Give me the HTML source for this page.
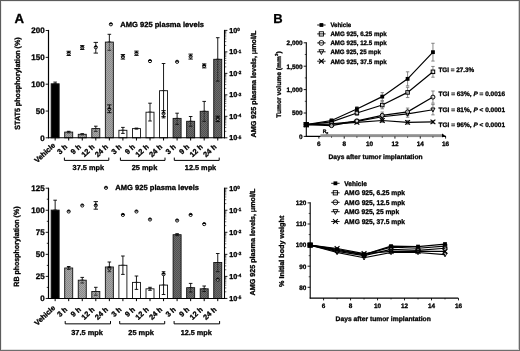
<!DOCTYPE html>
<html><head><meta charset="utf-8"><title>Figure</title>
<style>
html,body{margin:0;padding:0;background:#fff;}
body{width:520px;height:351px;overflow:hidden;position:relative;}
svg{display:block;position:absolute;left:0;top:0;}
svg text{font-family:'Liberation Sans',Arial,sans-serif;fill:#000;stroke:#000;stroke-width:0.3px;stroke-linejoin:round;text-rendering:geometricPrecision;}
</style></head><body>
<svg width="520" height="351" viewBox="0 0 520 351">
<defs>
<pattern id="lg" width="2" height="2" patternUnits="userSpaceOnUse"><rect width="2" height="2" fill="#a8a8a8"/><rect width="1" height="1" fill="#8a8a8a"/><rect x="1" y="1" width="1" height="1" fill="#8a8a8a"/></pattern>
<pattern id="dg" width="2" height="2" patternUnits="userSpaceOnUse"><rect width="2" height="2" fill="#6c6c6c"/><rect width="1" height="1" fill="#505050"/><rect x="1" y="1" width="1" height="1" fill="#505050"/></pattern>
</defs>
<rect x="0" y="0" width="520" height="351" fill="#fff"/>

<line x1="55.15" y1="82.10" x2="55.15" y2="83.80" stroke="#000" stroke-width="0.9"/>
<line x1="53.35" y1="82.10" x2="56.95" y2="82.10" stroke="#000" stroke-width="0.9"/>
<line x1="53.35" y1="83.80" x2="56.95" y2="83.80" stroke="#000" stroke-width="0.9"/>
<rect x="51.15" y="83.80" width="8.0" height="54.00" fill="#000" stroke="#111" stroke-width="0.9"/>
<line x1="68.70" y1="131.30" x2="68.70" y2="132.10" stroke="#000" stroke-width="0.9"/>
<line x1="66.90" y1="131.30" x2="70.50" y2="131.30" stroke="#000" stroke-width="0.9"/>
<line x1="66.90" y1="132.10" x2="70.50" y2="132.10" stroke="#000" stroke-width="0.9"/>
<rect x="64.70" y="132.10" width="8.0" height="5.70" fill="url(#lg)" stroke="#111" stroke-width="0.9"/>
<line x1="68.70" y1="132.10" x2="68.70" y2="132.90" stroke="#222" stroke-width="0.9" stroke-dasharray="1 0.6"/>
<line x1="66.90" y1="132.90" x2="70.50" y2="132.90" stroke="#222" stroke-width="0.9"/>
<line x1="82.25" y1="133.70" x2="82.25" y2="134.30" stroke="#000" stroke-width="0.9"/>
<line x1="80.45" y1="133.70" x2="84.05" y2="133.70" stroke="#000" stroke-width="0.9"/>
<line x1="80.45" y1="134.30" x2="84.05" y2="134.30" stroke="#000" stroke-width="0.9"/>
<rect x="78.25" y="134.30" width="8.0" height="3.50" fill="url(#lg)" stroke="#111" stroke-width="0.9"/>
<line x1="82.25" y1="134.30" x2="82.25" y2="134.90" stroke="#222" stroke-width="0.9" stroke-dasharray="1 0.6"/>
<line x1="80.45" y1="134.90" x2="84.05" y2="134.90" stroke="#222" stroke-width="0.9"/>
<line x1="95.80" y1="126.20" x2="95.80" y2="128.60" stroke="#000" stroke-width="0.9"/>
<line x1="94.00" y1="126.20" x2="97.60" y2="126.20" stroke="#000" stroke-width="0.9"/>
<line x1="94.00" y1="128.60" x2="97.60" y2="128.60" stroke="#000" stroke-width="0.9"/>
<rect x="91.80" y="128.60" width="8.0" height="9.20" fill="url(#lg)" stroke="#111" stroke-width="0.9"/>
<line x1="95.80" y1="128.60" x2="95.80" y2="131.40" stroke="#222" stroke-width="0.9" stroke-dasharray="1 0.6"/>
<line x1="94.00" y1="131.40" x2="97.60" y2="131.40" stroke="#222" stroke-width="0.9"/>
<line x1="109.35" y1="34.30" x2="109.35" y2="42.10" stroke="#000" stroke-width="0.9"/>
<line x1="107.55" y1="34.30" x2="111.15" y2="34.30" stroke="#000" stroke-width="0.9"/>
<line x1="107.55" y1="42.10" x2="111.15" y2="42.10" stroke="#000" stroke-width="0.9"/>
<rect x="105.35" y="42.10" width="8.0" height="95.70" fill="url(#lg)" stroke="#111" stroke-width="0.9"/>
<line x1="109.35" y1="42.10" x2="109.35" y2="50.30" stroke="#222" stroke-width="0.9" stroke-dasharray="1 0.6"/>
<line x1="107.55" y1="50.30" x2="111.15" y2="50.30" stroke="#222" stroke-width="0.9"/>
<line x1="122.90" y1="127.40" x2="122.90" y2="130.30" stroke="#000" stroke-width="0.9"/>
<line x1="121.10" y1="127.40" x2="124.70" y2="127.40" stroke="#000" stroke-width="0.9"/>
<line x1="121.10" y1="130.30" x2="124.70" y2="130.30" stroke="#000" stroke-width="0.9"/>
<rect x="118.90" y="130.30" width="8.0" height="7.50" fill="#fff" stroke="#111" stroke-width="0.9"/>
<line x1="122.90" y1="130.30" x2="122.90" y2="133.40" stroke="#000" stroke-width="0.9"/>
<line x1="121.10" y1="133.40" x2="124.70" y2="133.40" stroke="#000" stroke-width="0.9"/>
<line x1="136.45" y1="128.10" x2="136.45" y2="128.60" stroke="#000" stroke-width="0.9"/>
<line x1="134.65" y1="128.10" x2="138.25" y2="128.10" stroke="#000" stroke-width="0.9"/>
<line x1="134.65" y1="128.60" x2="138.25" y2="128.60" stroke="#000" stroke-width="0.9"/>
<rect x="132.45" y="128.60" width="8.0" height="9.20" fill="#fff" stroke="#111" stroke-width="0.9"/>
<line x1="136.45" y1="128.60" x2="136.45" y2="129.10" stroke="#000" stroke-width="0.9"/>
<line x1="134.65" y1="129.10" x2="138.25" y2="129.10" stroke="#000" stroke-width="0.9"/>
<line x1="150.00" y1="103.20" x2="150.00" y2="112.20" stroke="#000" stroke-width="0.9"/>
<line x1="148.20" y1="103.20" x2="151.80" y2="103.20" stroke="#000" stroke-width="0.9"/>
<line x1="148.20" y1="112.20" x2="151.80" y2="112.20" stroke="#000" stroke-width="0.9"/>
<rect x="146.00" y="112.20" width="8.0" height="25.60" fill="#fff" stroke="#111" stroke-width="0.9"/>
<line x1="150.00" y1="112.20" x2="150.00" y2="121.00" stroke="#000" stroke-width="0.9"/>
<line x1="148.20" y1="121.00" x2="151.80" y2="121.00" stroke="#000" stroke-width="0.9"/>
<line x1="163.55" y1="63.50" x2="163.55" y2="90.70" stroke="#000" stroke-width="0.9"/>
<line x1="161.75" y1="63.50" x2="165.35" y2="63.50" stroke="#000" stroke-width="0.9"/>
<line x1="161.75" y1="90.70" x2="165.35" y2="90.70" stroke="#000" stroke-width="0.9"/>
<rect x="159.55" y="90.70" width="8.0" height="47.10" fill="#fff" stroke="#111" stroke-width="0.9"/>
<line x1="163.55" y1="90.70" x2="163.55" y2="117.90" stroke="#000" stroke-width="0.9"/>
<line x1="161.75" y1="117.90" x2="165.35" y2="117.90" stroke="#000" stroke-width="0.9"/>
<line x1="177.10" y1="113.20" x2="177.10" y2="118.40" stroke="#000" stroke-width="0.9"/>
<line x1="175.30" y1="113.20" x2="178.90" y2="113.20" stroke="#000" stroke-width="0.9"/>
<line x1="175.30" y1="118.40" x2="178.90" y2="118.40" stroke="#000" stroke-width="0.9"/>
<rect x="173.10" y="118.40" width="8.0" height="19.40" fill="url(#dg)" stroke="#111" stroke-width="0.9"/>
<line x1="177.10" y1="118.40" x2="177.10" y2="124.40" stroke="#111" stroke-width="0.9" stroke-dasharray="1 0.6"/>
<line x1="175.30" y1="124.40" x2="178.90" y2="124.40" stroke="#111" stroke-width="0.9"/>
<line x1="190.65" y1="116.50" x2="190.65" y2="121.30" stroke="#000" stroke-width="0.9"/>
<line x1="188.85" y1="116.50" x2="192.45" y2="116.50" stroke="#000" stroke-width="0.9"/>
<line x1="188.85" y1="121.30" x2="192.45" y2="121.30" stroke="#000" stroke-width="0.9"/>
<rect x="186.65" y="121.30" width="8.0" height="16.50" fill="url(#dg)" stroke="#111" stroke-width="0.9"/>
<line x1="190.65" y1="121.30" x2="190.65" y2="126.20" stroke="#111" stroke-width="0.9" stroke-dasharray="1 0.6"/>
<line x1="188.85" y1="126.20" x2="192.45" y2="126.20" stroke="#111" stroke-width="0.9"/>
<line x1="204.20" y1="101.40" x2="204.20" y2="111.30" stroke="#000" stroke-width="0.9"/>
<line x1="202.40" y1="101.40" x2="206.00" y2="101.40" stroke="#000" stroke-width="0.9"/>
<line x1="202.40" y1="111.30" x2="206.00" y2="111.30" stroke="#000" stroke-width="0.9"/>
<rect x="200.20" y="111.30" width="8.0" height="26.50" fill="url(#dg)" stroke="#111" stroke-width="0.9"/>
<line x1="204.20" y1="111.30" x2="204.20" y2="121.30" stroke="#111" stroke-width="0.9" stroke-dasharray="1 0.6"/>
<line x1="202.40" y1="121.30" x2="206.00" y2="121.30" stroke="#111" stroke-width="0.9"/>
<line x1="217.75" y1="37.70" x2="217.75" y2="59.30" stroke="#000" stroke-width="0.9"/>
<line x1="215.95" y1="37.70" x2="219.55" y2="37.70" stroke="#000" stroke-width="0.9"/>
<line x1="215.95" y1="59.30" x2="219.55" y2="59.30" stroke="#000" stroke-width="0.9"/>
<rect x="213.75" y="59.30" width="8.0" height="78.50" fill="url(#dg)" stroke="#111" stroke-width="0.9"/>
<line x1="217.75" y1="59.30" x2="217.75" y2="81.10" stroke="#111" stroke-width="0.9" stroke-dasharray="1 0.6"/>
<line x1="215.95" y1="81.10" x2="219.55" y2="81.10" stroke="#111" stroke-width="0.9"/>
<line x1="48.50" y1="29.90" x2="48.50" y2="138.30" stroke="#000" stroke-width="1.2"/>
<line x1="47.90" y1="137.80" x2="225.05" y2="137.80" stroke="#000" stroke-width="1.1"/>
<line x1="224.50" y1="29.90" x2="224.50" y2="138.30" stroke="#000" stroke-width="1.1"/>
<line x1="55.15" y1="137.80" x2="55.15" y2="140.50" stroke="#000" stroke-width="1.0"/>
<line x1="68.70" y1="137.80" x2="68.70" y2="140.50" stroke="#000" stroke-width="1.0"/>
<line x1="82.25" y1="137.80" x2="82.25" y2="140.50" stroke="#000" stroke-width="1.0"/>
<line x1="95.80" y1="137.80" x2="95.80" y2="140.50" stroke="#000" stroke-width="1.0"/>
<line x1="109.35" y1="137.80" x2="109.35" y2="140.50" stroke="#000" stroke-width="1.0"/>
<line x1="122.90" y1="137.80" x2="122.90" y2="140.50" stroke="#000" stroke-width="1.0"/>
<line x1="136.45" y1="137.80" x2="136.45" y2="140.50" stroke="#000" stroke-width="1.0"/>
<line x1="150.00" y1="137.80" x2="150.00" y2="140.50" stroke="#000" stroke-width="1.0"/>
<line x1="163.55" y1="137.80" x2="163.55" y2="140.50" stroke="#000" stroke-width="1.0"/>
<line x1="177.10" y1="137.80" x2="177.10" y2="140.50" stroke="#000" stroke-width="1.0"/>
<line x1="190.65" y1="137.80" x2="190.65" y2="140.50" stroke="#000" stroke-width="1.0"/>
<line x1="204.20" y1="137.80" x2="204.20" y2="140.50" stroke="#000" stroke-width="1.0"/>
<line x1="217.75" y1="137.80" x2="217.75" y2="140.50" stroke="#000" stroke-width="1.0"/>
<line x1="45.70" y1="30.50" x2="48.50" y2="30.50" stroke="#000" stroke-width="0.9"/>
<text x="44.6" y="33.2" font-size="8.0" text-anchor="end" font-weight="bold">200</text>
<line x1="45.70" y1="57.35" x2="48.50" y2="57.35" stroke="#000" stroke-width="0.9"/>
<text x="44.6" y="60.05" font-size="8.0" text-anchor="end" font-weight="bold">150</text>
<line x1="45.70" y1="84.20" x2="48.50" y2="84.20" stroke="#000" stroke-width="0.9"/>
<text x="44.6" y="86.9" font-size="8.0" text-anchor="end" font-weight="bold">100</text>
<line x1="45.70" y1="111.05" x2="48.50" y2="111.05" stroke="#000" stroke-width="0.9"/>
<text x="44.6" y="113.75" font-size="8.0" text-anchor="end" font-weight="bold">50</text>
<line x1="45.70" y1="137.80" x2="48.50" y2="137.80" stroke="#000" stroke-width="0.9"/>
<text x="44.6" y="140.5" font-size="8.0" text-anchor="end" font-weight="bold">0</text>
<line x1="224.50" y1="30.40" x2="227.40" y2="30.40" stroke="#000" stroke-width="0.9"/>
<text x="229.2" y="33.00" font-size="7.2" font-weight="bold">10<tspan dy="-1.8" font-size="4.6">0</tspan></text>
<line x1="224.50" y1="45.41" x2="226.30" y2="45.41" stroke="#000" stroke-width="0.6"/>
<line x1="224.50" y1="41.63" x2="226.30" y2="41.63" stroke="#000" stroke-width="0.6"/>
<line x1="224.50" y1="38.95" x2="226.30" y2="38.95" stroke="#000" stroke-width="0.6"/>
<line x1="224.50" y1="36.87" x2="226.30" y2="36.87" stroke="#000" stroke-width="0.6"/>
<line x1="224.50" y1="35.17" x2="226.30" y2="35.17" stroke="#000" stroke-width="0.6"/>
<line x1="224.50" y1="33.73" x2="226.30" y2="33.73" stroke="#000" stroke-width="0.6"/>
<line x1="224.50" y1="32.48" x2="226.30" y2="32.48" stroke="#000" stroke-width="0.6"/>
<line x1="224.50" y1="31.38" x2="226.30" y2="31.38" stroke="#000" stroke-width="0.6"/>
<line x1="224.50" y1="51.88" x2="227.40" y2="51.88" stroke="#000" stroke-width="0.9"/>
<text x="229.2" y="54.48" font-size="7.2" font-weight="bold">10<tspan dy="-1.8" font-size="4.6">-1</tspan></text>
<line x1="224.50" y1="66.89" x2="226.30" y2="66.89" stroke="#000" stroke-width="0.6"/>
<line x1="224.50" y1="63.11" x2="226.30" y2="63.11" stroke="#000" stroke-width="0.6"/>
<line x1="224.50" y1="60.43" x2="226.30" y2="60.43" stroke="#000" stroke-width="0.6"/>
<line x1="224.50" y1="58.35" x2="226.30" y2="58.35" stroke="#000" stroke-width="0.6"/>
<line x1="224.50" y1="56.65" x2="226.30" y2="56.65" stroke="#000" stroke-width="0.6"/>
<line x1="224.50" y1="55.21" x2="226.30" y2="55.21" stroke="#000" stroke-width="0.6"/>
<line x1="224.50" y1="53.96" x2="226.30" y2="53.96" stroke="#000" stroke-width="0.6"/>
<line x1="224.50" y1="52.86" x2="226.30" y2="52.86" stroke="#000" stroke-width="0.6"/>
<line x1="224.50" y1="73.36" x2="227.40" y2="73.36" stroke="#000" stroke-width="0.9"/>
<text x="229.2" y="75.96" font-size="7.2" font-weight="bold">10<tspan dy="-1.8" font-size="4.6">-2</tspan></text>
<line x1="224.50" y1="88.37" x2="226.30" y2="88.37" stroke="#000" stroke-width="0.6"/>
<line x1="224.50" y1="84.59" x2="226.30" y2="84.59" stroke="#000" stroke-width="0.6"/>
<line x1="224.50" y1="81.91" x2="226.30" y2="81.91" stroke="#000" stroke-width="0.6"/>
<line x1="224.50" y1="79.83" x2="226.30" y2="79.83" stroke="#000" stroke-width="0.6"/>
<line x1="224.50" y1="78.13" x2="226.30" y2="78.13" stroke="#000" stroke-width="0.6"/>
<line x1="224.50" y1="76.69" x2="226.30" y2="76.69" stroke="#000" stroke-width="0.6"/>
<line x1="224.50" y1="75.44" x2="226.30" y2="75.44" stroke="#000" stroke-width="0.6"/>
<line x1="224.50" y1="74.34" x2="226.30" y2="74.34" stroke="#000" stroke-width="0.6"/>
<line x1="224.50" y1="94.84" x2="227.40" y2="94.84" stroke="#000" stroke-width="0.9"/>
<text x="229.2" y="97.44" font-size="7.2" font-weight="bold">10<tspan dy="-1.8" font-size="4.6">-3</tspan></text>
<line x1="224.50" y1="109.85" x2="226.30" y2="109.85" stroke="#000" stroke-width="0.6"/>
<line x1="224.50" y1="106.07" x2="226.30" y2="106.07" stroke="#000" stroke-width="0.6"/>
<line x1="224.50" y1="103.39" x2="226.30" y2="103.39" stroke="#000" stroke-width="0.6"/>
<line x1="224.50" y1="101.31" x2="226.30" y2="101.31" stroke="#000" stroke-width="0.6"/>
<line x1="224.50" y1="99.61" x2="226.30" y2="99.61" stroke="#000" stroke-width="0.6"/>
<line x1="224.50" y1="98.17" x2="226.30" y2="98.17" stroke="#000" stroke-width="0.6"/>
<line x1="224.50" y1="96.92" x2="226.30" y2="96.92" stroke="#000" stroke-width="0.6"/>
<line x1="224.50" y1="95.82" x2="226.30" y2="95.82" stroke="#000" stroke-width="0.6"/>
<line x1="224.50" y1="116.32" x2="227.40" y2="116.32" stroke="#000" stroke-width="0.9"/>
<text x="229.2" y="118.92" font-size="7.2" font-weight="bold">10<tspan dy="-1.8" font-size="4.6">-4</tspan></text>
<line x1="224.50" y1="131.33" x2="226.30" y2="131.33" stroke="#000" stroke-width="0.6"/>
<line x1="224.50" y1="127.55" x2="226.30" y2="127.55" stroke="#000" stroke-width="0.6"/>
<line x1="224.50" y1="124.87" x2="226.30" y2="124.87" stroke="#000" stroke-width="0.6"/>
<line x1="224.50" y1="122.79" x2="226.30" y2="122.79" stroke="#000" stroke-width="0.6"/>
<line x1="224.50" y1="121.09" x2="226.30" y2="121.09" stroke="#000" stroke-width="0.6"/>
<line x1="224.50" y1="119.65" x2="226.30" y2="119.65" stroke="#000" stroke-width="0.6"/>
<line x1="224.50" y1="118.40" x2="226.30" y2="118.40" stroke="#000" stroke-width="0.6"/>
<line x1="224.50" y1="117.30" x2="226.30" y2="117.30" stroke="#000" stroke-width="0.6"/>
<line x1="224.50" y1="137.80" x2="227.40" y2="137.80" stroke="#000" stroke-width="0.9"/>
<text x="229.2" y="140.40" font-size="7.2" font-weight="bold">10<tspan dy="-1.8" font-size="4.6">-5</tspan></text>
<line x1="68.70" y1="51.25" x2="68.70" y2="55.50" stroke="#000" stroke-width="0.9"/>
<line x1="66.50" y1="51.25" x2="70.90" y2="51.25" stroke="#000" stroke-width="0.9"/>
<line x1="66.50" y1="55.50" x2="70.90" y2="55.50" stroke="#000" stroke-width="0.9"/>
<circle cx="68.70" cy="53.30" r="1.6" fill="#fff" fill-opacity="0.7" stroke="#000" stroke-width="0.9"/>
<path d="M67.10 53.30 A1.6 1.6 0 0 1 70.30 53.30 Z" fill="#000"/>
<line x1="82.25" y1="45.60" x2="82.25" y2="49.50" stroke="#000" stroke-width="0.9"/>
<line x1="80.05" y1="45.60" x2="84.45" y2="45.60" stroke="#000" stroke-width="0.9"/>
<line x1="80.05" y1="49.50" x2="84.45" y2="49.50" stroke="#000" stroke-width="0.9"/>
<circle cx="82.25" cy="47.50" r="1.6" fill="#fff" fill-opacity="0.7" stroke="#000" stroke-width="0.9"/>
<path d="M80.65 47.50 A1.6 1.6 0 0 1 83.85 47.50 Z" fill="#000"/>
<line x1="95.80" y1="42.40" x2="95.80" y2="53.10" stroke="#000" stroke-width="0.9"/>
<line x1="93.60" y1="42.40" x2="98.00" y2="42.40" stroke="#000" stroke-width="0.9"/>
<line x1="93.60" y1="53.10" x2="98.00" y2="53.10" stroke="#000" stroke-width="0.9"/>
<circle cx="95.80" cy="47.30" r="1.6" fill="#fff" fill-opacity="0.7" stroke="#000" stroke-width="0.9"/>
<path d="M94.20 47.30 A1.6 1.6 0 0 1 97.40 47.30 Z" fill="#000"/>
<line x1="109.35" y1="104.90" x2="109.35" y2="112.70" stroke="#000" stroke-width="0.9"/>
<line x1="107.15" y1="104.90" x2="111.55" y2="104.90" stroke="#000" stroke-width="0.9"/>
<line x1="107.15" y1="112.70" x2="111.55" y2="112.70" stroke="#000" stroke-width="0.9"/>
<circle cx="109.35" cy="109.20" r="1.6" fill="#fff" fill-opacity="0.7" stroke="#000" stroke-width="0.9"/>
<path d="M107.75 109.20 A1.6 1.6 0 0 1 110.95 109.20 Z" fill="#000"/>
<line x1="122.90" y1="54.50" x2="122.90" y2="59.10" stroke="#000" stroke-width="0.9"/>
<line x1="120.70" y1="54.50" x2="125.10" y2="54.50" stroke="#000" stroke-width="0.9"/>
<line x1="120.70" y1="59.10" x2="125.10" y2="59.10" stroke="#000" stroke-width="0.9"/>
<circle cx="122.90" cy="56.80" r="1.6" fill="#fff" fill-opacity="0.7" stroke="#000" stroke-width="0.9"/>
<path d="M121.30 56.80 A1.6 1.6 0 0 1 124.50 56.80 Z" fill="#000"/>
<line x1="136.45" y1="51.10" x2="136.45" y2="55.40" stroke="#000" stroke-width="0.9"/>
<line x1="134.25" y1="51.10" x2="138.65" y2="51.10" stroke="#000" stroke-width="0.9"/>
<line x1="134.25" y1="55.40" x2="138.65" y2="55.40" stroke="#000" stroke-width="0.9"/>
<circle cx="136.45" cy="53.30" r="1.6" fill="#fff" fill-opacity="0.7" stroke="#000" stroke-width="0.9"/>
<path d="M134.85 53.30 A1.6 1.6 0 0 1 138.05 53.30 Z" fill="#000"/>
<circle cx="150.00" cy="61.10" r="1.6" fill="#fff" fill-opacity="0.7" stroke="#000" stroke-width="0.9"/>
<path d="M148.40 61.10 A1.6 1.6 0 0 1 151.60 61.10 Z" fill="#000"/>
<line x1="163.55" y1="110.60" x2="163.55" y2="116.60" stroke="#000" stroke-width="0.9"/>
<line x1="161.35" y1="110.60" x2="165.75" y2="110.60" stroke="#000" stroke-width="0.9"/>
<line x1="161.35" y1="116.60" x2="165.75" y2="116.60" stroke="#000" stroke-width="0.9"/>
<circle cx="163.55" cy="113.50" r="1.6" fill="#fff" fill-opacity="0.7" stroke="#000" stroke-width="0.9"/>
<path d="M161.95 113.50 A1.6 1.6 0 0 1 165.15 113.50 Z" fill="#000"/>
<circle cx="177.10" cy="61.80" r="1.6" fill="#fff" fill-opacity="0.7" stroke="#000" stroke-width="0.9"/>
<path d="M175.50 61.80 A1.6 1.6 0 0 1 178.70 61.80 Z" fill="#000"/>
<line x1="190.65" y1="54.10" x2="190.65" y2="59.10" stroke="#000" stroke-width="0.9"/>
<line x1="188.45" y1="54.10" x2="192.85" y2="54.10" stroke="#000" stroke-width="0.9"/>
<line x1="188.45" y1="59.10" x2="192.85" y2="59.10" stroke="#000" stroke-width="0.9"/>
<circle cx="190.65" cy="56.60" r="1.6" fill="#fff" fill-opacity="0.7" stroke="#000" stroke-width="0.9"/>
<path d="M189.05 56.60 A1.6 1.6 0 0 1 192.25 56.60 Z" fill="#000"/>
<line x1="204.20" y1="63.90" x2="204.20" y2="67.90" stroke="#000" stroke-width="0.9"/>
<line x1="202.00" y1="63.90" x2="206.40" y2="63.90" stroke="#000" stroke-width="0.9"/>
<line x1="202.00" y1="67.90" x2="206.40" y2="67.90" stroke="#000" stroke-width="0.9"/>
<circle cx="204.20" cy="65.90" r="1.6" fill="#fff" fill-opacity="0.7" stroke="#000" stroke-width="0.9"/>
<path d="M202.60 65.90 A1.6 1.6 0 0 1 205.80 65.90 Z" fill="#000"/>
<line x1="217.75" y1="116.20" x2="217.75" y2="121.60" stroke="#000" stroke-width="0.9"/>
<line x1="215.55" y1="116.20" x2="219.95" y2="116.20" stroke="#000" stroke-width="0.9"/>
<line x1="215.55" y1="121.60" x2="219.95" y2="121.60" stroke="#000" stroke-width="0.9"/>
<circle cx="217.75" cy="118.80" r="1.6" fill="#fff" fill-opacity="0.7" stroke="#000" stroke-width="0.9"/>
<path d="M216.15 118.80 A1.6 1.6 0 0 1 219.35 118.80 Z" fill="#000"/>
<text x="19.7" y="83.5" font-size="7.5" text-anchor="middle" font-weight="bold" transform="rotate(-90 19.7 83.5)" textLength="92.3" lengthAdjust="spacingAndGlyphs">STAT5 phosphorylation (%)</text>
<text x="255.6" y="84.0" font-size="7.2" text-anchor="middle" font-weight="bold" transform="rotate(-90 255.6 84.0)">AMG 925 plasma levels, <tspan font-weight="normal">µ</tspan>mol/L</text>
<circle cx="110.90" cy="24.30" r="1.6" fill="#fff" fill-opacity="0.7" stroke="#000" stroke-width="0.9"/>
<path d="M109.30 24.30 A1.6 1.6 0 0 1 112.50 24.30 Z" fill="#000"/>
<text x="120.2" y="26.8" font-size="7.4" text-anchor="start" font-weight="bold" textLength="83.8" lengthAdjust="spacingAndGlyphs">AMG 925 plasma levels</text>
<text x="55.85" y="145.9" font-size="7.4" text-anchor="end" font-weight="bold" transform="rotate(-43 55.85 145.9)">Vehicle</text>
<text x="67.9" y="147.4" font-size="7.4" text-anchor="end" font-weight="bold" transform="rotate(-43 67.9 147.4)">3 h</text>
<text x="81.45" y="147.4" font-size="7.4" text-anchor="end" font-weight="bold" transform="rotate(-43 81.45 147.4)">9 h</text>
<text x="95.0" y="147.4" font-size="7.4" text-anchor="end" font-weight="bold" transform="rotate(-43 95.0 147.4)">12 h</text>
<text x="108.55" y="147.4" font-size="7.4" text-anchor="end" font-weight="bold" transform="rotate(-43 108.55 147.4)">24 h</text>
<text x="122.1" y="147.4" font-size="7.4" text-anchor="end" font-weight="bold" transform="rotate(-43 122.1 147.4)">3 h</text>
<text x="135.65" y="147.4" font-size="7.4" text-anchor="end" font-weight="bold" transform="rotate(-43 135.65 147.4)">9 h</text>
<text x="149.2" y="147.4" font-size="7.4" text-anchor="end" font-weight="bold" transform="rotate(-43 149.2 147.4)">12 h</text>
<text x="162.75" y="147.4" font-size="7.4" text-anchor="end" font-weight="bold" transform="rotate(-43 162.75 147.4)">24 h</text>
<text x="176.3" y="147.4" font-size="7.4" text-anchor="end" font-weight="bold" transform="rotate(-43 176.3 147.4)">3 h</text>
<text x="189.85" y="147.4" font-size="7.4" text-anchor="end" font-weight="bold" transform="rotate(-43 189.85 147.4)">9 h</text>
<text x="203.4" y="147.4" font-size="7.4" text-anchor="end" font-weight="bold" transform="rotate(-43 203.4 147.4)">12 h</text>
<text x="216.95" y="147.4" font-size="7.4" text-anchor="end" font-weight="bold" transform="rotate(-43 216.95 147.4)">24 h</text>
<path d="M64.4 157.6 V160.4 H108.8 V157.6" fill="none" stroke="#000" stroke-width="1"/>
<text x="88.3" y="170.2" font-size="7.2" text-anchor="middle" font-weight="bold" textLength="31.4" lengthAdjust="spacingAndGlyphs">37.5 mpk</text>
<path d="M120.4 157.6 V160.4 H165.0 V157.6" fill="none" stroke="#000" stroke-width="1"/>
<text x="144.5" y="170.2" font-size="7.2" text-anchor="middle" font-weight="bold" textLength="25.5" lengthAdjust="spacingAndGlyphs">25 mpk</text>
<path d="M174.3 157.6 V160.4 H219.2 V157.6" fill="none" stroke="#000" stroke-width="1"/>
<text x="200.5" y="170.2" font-size="7.2" text-anchor="middle" font-weight="bold" textLength="31.4" lengthAdjust="spacingAndGlyphs">12.5 mpk</text>
<line x1="55.15" y1="200.20" x2="55.15" y2="210.10" stroke="#000" stroke-width="0.9"/>
<line x1="53.35" y1="200.20" x2="56.95" y2="200.20" stroke="#000" stroke-width="0.9"/>
<line x1="53.35" y1="210.10" x2="56.95" y2="210.10" stroke="#000" stroke-width="0.9"/>
<rect x="51.15" y="210.10" width="8.0" height="88.35" fill="#000" stroke="#111" stroke-width="0.9"/>
<line x1="68.70" y1="266.50" x2="68.70" y2="268.00" stroke="#000" stroke-width="0.9"/>
<line x1="66.90" y1="266.50" x2="70.50" y2="266.50" stroke="#000" stroke-width="0.9"/>
<line x1="66.90" y1="268.00" x2="70.50" y2="268.00" stroke="#000" stroke-width="0.9"/>
<rect x="64.70" y="268.00" width="8.0" height="30.45" fill="url(#lg)" stroke="#111" stroke-width="0.9"/>
<line x1="68.70" y1="268.00" x2="68.70" y2="269.50" stroke="#222" stroke-width="0.9" stroke-dasharray="1 0.6"/>
<line x1="66.90" y1="269.50" x2="70.50" y2="269.50" stroke="#222" stroke-width="0.9"/>
<line x1="82.25" y1="277.40" x2="82.25" y2="280.20" stroke="#000" stroke-width="0.9"/>
<line x1="80.45" y1="277.40" x2="84.05" y2="277.40" stroke="#000" stroke-width="0.9"/>
<line x1="80.45" y1="280.20" x2="84.05" y2="280.20" stroke="#000" stroke-width="0.9"/>
<rect x="78.25" y="280.20" width="8.0" height="18.25" fill="url(#lg)" stroke="#111" stroke-width="0.9"/>
<line x1="82.25" y1="280.20" x2="82.25" y2="283.00" stroke="#222" stroke-width="0.9" stroke-dasharray="1 0.6"/>
<line x1="80.45" y1="283.00" x2="84.05" y2="283.00" stroke="#222" stroke-width="0.9"/>
<line x1="95.80" y1="287.30" x2="95.80" y2="291.50" stroke="#000" stroke-width="0.9"/>
<line x1="94.00" y1="287.30" x2="97.60" y2="287.30" stroke="#000" stroke-width="0.9"/>
<line x1="94.00" y1="291.50" x2="97.60" y2="291.50" stroke="#000" stroke-width="0.9"/>
<rect x="91.80" y="291.50" width="8.0" height="6.95" fill="url(#lg)" stroke="#111" stroke-width="0.9"/>
<line x1="95.80" y1="291.50" x2="95.80" y2="295.20" stroke="#222" stroke-width="0.9" stroke-dasharray="1 0.6"/>
<line x1="94.00" y1="295.20" x2="97.60" y2="295.20" stroke="#222" stroke-width="0.9"/>
<line x1="109.35" y1="262.00" x2="109.35" y2="267.00" stroke="#000" stroke-width="0.9"/>
<line x1="107.55" y1="262.00" x2="111.15" y2="262.00" stroke="#000" stroke-width="0.9"/>
<line x1="107.55" y1="267.00" x2="111.15" y2="267.00" stroke="#000" stroke-width="0.9"/>
<rect x="105.35" y="267.00" width="8.0" height="31.45" fill="url(#lg)" stroke="#111" stroke-width="0.9"/>
<line x1="109.35" y1="267.00" x2="109.35" y2="271.70" stroke="#222" stroke-width="0.9" stroke-dasharray="1 0.6"/>
<line x1="107.55" y1="271.70" x2="111.15" y2="271.70" stroke="#222" stroke-width="0.9"/>
<line x1="122.90" y1="256.00" x2="122.90" y2="265.30" stroke="#000" stroke-width="0.9"/>
<line x1="121.10" y1="256.00" x2="124.70" y2="256.00" stroke="#000" stroke-width="0.9"/>
<line x1="121.10" y1="265.30" x2="124.70" y2="265.30" stroke="#000" stroke-width="0.9"/>
<rect x="118.90" y="265.30" width="8.0" height="33.15" fill="#fff" stroke="#111" stroke-width="0.9"/>
<line x1="122.90" y1="265.30" x2="122.90" y2="274.40" stroke="#000" stroke-width="0.9"/>
<line x1="121.10" y1="274.40" x2="124.70" y2="274.40" stroke="#000" stroke-width="0.9"/>
<line x1="136.45" y1="276.00" x2="136.45" y2="282.40" stroke="#000" stroke-width="0.9"/>
<line x1="134.65" y1="276.00" x2="138.25" y2="276.00" stroke="#000" stroke-width="0.9"/>
<line x1="134.65" y1="282.40" x2="138.25" y2="282.40" stroke="#000" stroke-width="0.9"/>
<rect x="132.45" y="282.40" width="8.0" height="16.05" fill="#fff" stroke="#111" stroke-width="0.9"/>
<line x1="136.45" y1="282.40" x2="136.45" y2="289.40" stroke="#000" stroke-width="0.9"/>
<line x1="134.65" y1="289.40" x2="138.25" y2="289.40" stroke="#000" stroke-width="0.9"/>
<line x1="150.00" y1="287.30" x2="150.00" y2="288.80" stroke="#000" stroke-width="0.9"/>
<line x1="148.20" y1="287.30" x2="151.80" y2="287.30" stroke="#000" stroke-width="0.9"/>
<line x1="148.20" y1="288.80" x2="151.80" y2="288.80" stroke="#000" stroke-width="0.9"/>
<rect x="146.00" y="288.80" width="8.0" height="9.65" fill="#fff" stroke="#111" stroke-width="0.9"/>
<line x1="150.00" y1="288.80" x2="150.00" y2="290.30" stroke="#000" stroke-width="0.9"/>
<line x1="148.20" y1="290.30" x2="151.80" y2="290.30" stroke="#000" stroke-width="0.9"/>
<line x1="163.55" y1="271.70" x2="163.55" y2="285.10" stroke="#000" stroke-width="0.9"/>
<line x1="161.75" y1="271.70" x2="165.35" y2="271.70" stroke="#000" stroke-width="0.9"/>
<line x1="161.75" y1="285.10" x2="165.35" y2="285.10" stroke="#000" stroke-width="0.9"/>
<rect x="159.55" y="285.10" width="8.0" height="13.35" fill="#fff" stroke="#111" stroke-width="0.9"/>
<line x1="163.55" y1="285.10" x2="163.55" y2="294.50" stroke="#000" stroke-width="0.9"/>
<line x1="161.75" y1="294.50" x2="165.35" y2="294.50" stroke="#000" stroke-width="0.9"/>
<line x1="177.10" y1="233.70" x2="177.10" y2="234.70" stroke="#000" stroke-width="0.9"/>
<line x1="175.30" y1="233.70" x2="178.90" y2="233.70" stroke="#000" stroke-width="0.9"/>
<line x1="175.30" y1="234.70" x2="178.90" y2="234.70" stroke="#000" stroke-width="0.9"/>
<rect x="173.10" y="234.70" width="8.0" height="63.75" fill="url(#dg)" stroke="#111" stroke-width="0.9"/>
<line x1="177.10" y1="234.70" x2="177.10" y2="235.70" stroke="#111" stroke-width="0.9" stroke-dasharray="1 0.6"/>
<line x1="175.30" y1="235.70" x2="178.90" y2="235.70" stroke="#111" stroke-width="0.9"/>
<line x1="190.65" y1="283.40" x2="190.65" y2="287.70" stroke="#000" stroke-width="0.9"/>
<line x1="188.85" y1="283.40" x2="192.45" y2="283.40" stroke="#000" stroke-width="0.9"/>
<line x1="188.85" y1="287.70" x2="192.45" y2="287.70" stroke="#000" stroke-width="0.9"/>
<rect x="186.65" y="287.70" width="8.0" height="10.75" fill="url(#dg)" stroke="#111" stroke-width="0.9"/>
<line x1="190.65" y1="287.70" x2="190.65" y2="292.00" stroke="#111" stroke-width="0.9" stroke-dasharray="1 0.6"/>
<line x1="188.85" y1="292.00" x2="192.45" y2="292.00" stroke="#111" stroke-width="0.9"/>
<line x1="204.20" y1="286.00" x2="204.20" y2="288.80" stroke="#000" stroke-width="0.9"/>
<line x1="202.40" y1="286.00" x2="206.00" y2="286.00" stroke="#000" stroke-width="0.9"/>
<line x1="202.40" y1="288.80" x2="206.00" y2="288.80" stroke="#000" stroke-width="0.9"/>
<rect x="200.20" y="288.80" width="8.0" height="9.65" fill="url(#dg)" stroke="#111" stroke-width="0.9"/>
<line x1="204.20" y1="288.80" x2="204.20" y2="291.50" stroke="#111" stroke-width="0.9" stroke-dasharray="1 0.6"/>
<line x1="202.40" y1="291.50" x2="206.00" y2="291.50" stroke="#111" stroke-width="0.9"/>
<line x1="217.75" y1="253.50" x2="217.75" y2="262.50" stroke="#000" stroke-width="0.9"/>
<line x1="215.95" y1="253.50" x2="219.55" y2="253.50" stroke="#000" stroke-width="0.9"/>
<line x1="215.95" y1="262.50" x2="219.55" y2="262.50" stroke="#000" stroke-width="0.9"/>
<rect x="213.75" y="262.50" width="8.0" height="35.95" fill="url(#dg)" stroke="#111" stroke-width="0.9"/>
<line x1="217.75" y1="262.50" x2="217.75" y2="271.70" stroke="#111" stroke-width="0.9" stroke-dasharray="1 0.6"/>
<line x1="215.95" y1="271.70" x2="219.55" y2="271.70" stroke="#111" stroke-width="0.9"/>
<line x1="48.50" y1="187.70" x2="48.50" y2="298.95" stroke="#000" stroke-width="1.2"/>
<line x1="47.90" y1="298.45" x2="225.05" y2="298.45" stroke="#000" stroke-width="1.1"/>
<line x1="224.50" y1="187.70" x2="224.50" y2="298.95" stroke="#000" stroke-width="1.1"/>
<line x1="55.15" y1="298.45" x2="55.15" y2="301.15" stroke="#000" stroke-width="1.0"/>
<line x1="68.70" y1="298.45" x2="68.70" y2="301.15" stroke="#000" stroke-width="1.0"/>
<line x1="82.25" y1="298.45" x2="82.25" y2="301.15" stroke="#000" stroke-width="1.0"/>
<line x1="95.80" y1="298.45" x2="95.80" y2="301.15" stroke="#000" stroke-width="1.0"/>
<line x1="109.35" y1="298.45" x2="109.35" y2="301.15" stroke="#000" stroke-width="1.0"/>
<line x1="122.90" y1="298.45" x2="122.90" y2="301.15" stroke="#000" stroke-width="1.0"/>
<line x1="136.45" y1="298.45" x2="136.45" y2="301.15" stroke="#000" stroke-width="1.0"/>
<line x1="150.00" y1="298.45" x2="150.00" y2="301.15" stroke="#000" stroke-width="1.0"/>
<line x1="163.55" y1="298.45" x2="163.55" y2="301.15" stroke="#000" stroke-width="1.0"/>
<line x1="177.10" y1="298.45" x2="177.10" y2="301.15" stroke="#000" stroke-width="1.0"/>
<line x1="190.65" y1="298.45" x2="190.65" y2="301.15" stroke="#000" stroke-width="1.0"/>
<line x1="204.20" y1="298.45" x2="204.20" y2="301.15" stroke="#000" stroke-width="1.0"/>
<line x1="217.75" y1="298.45" x2="217.75" y2="301.15" stroke="#000" stroke-width="1.0"/>
<line x1="45.70" y1="188.20" x2="48.50" y2="188.20" stroke="#000" stroke-width="0.9"/>
<text x="44.6" y="190.9" font-size="8.0" text-anchor="end" font-weight="bold">125</text>
<line x1="45.70" y1="210.25" x2="48.50" y2="210.25" stroke="#000" stroke-width="0.9"/>
<text x="44.6" y="212.95" font-size="8.0" text-anchor="end" font-weight="bold">100</text>
<line x1="45.70" y1="232.30" x2="48.50" y2="232.30" stroke="#000" stroke-width="0.9"/>
<text x="44.6" y="235.0" font-size="8.0" text-anchor="end" font-weight="bold">75</text>
<line x1="45.70" y1="254.35" x2="48.50" y2="254.35" stroke="#000" stroke-width="0.9"/>
<text x="44.6" y="257.05" font-size="8.0" text-anchor="end" font-weight="bold">50</text>
<line x1="45.70" y1="276.40" x2="48.50" y2="276.40" stroke="#000" stroke-width="0.9"/>
<text x="44.6" y="279.1" font-size="8.0" text-anchor="end" font-weight="bold">25</text>
<line x1="45.70" y1="298.45" x2="48.50" y2="298.45" stroke="#000" stroke-width="0.9"/>
<text x="44.6" y="301.15" font-size="8.0" text-anchor="end" font-weight="bold">0</text>
<line x1="46.80" y1="199.20" x2="48.50" y2="199.20" stroke="#000" stroke-width="0.8"/>
<line x1="46.80" y1="221.30" x2="48.50" y2="221.30" stroke="#000" stroke-width="0.8"/>
<line x1="46.80" y1="243.30" x2="48.50" y2="243.30" stroke="#000" stroke-width="0.8"/>
<line x1="46.80" y1="265.40" x2="48.50" y2="265.40" stroke="#000" stroke-width="0.8"/>
<line x1="46.80" y1="287.40" x2="48.50" y2="287.40" stroke="#000" stroke-width="0.8"/>
<line x1="224.50" y1="188.20" x2="227.40" y2="188.20" stroke="#000" stroke-width="0.9"/>
<text x="229.2" y="190.80" font-size="7.2" font-weight="bold">10<tspan dy="-1.8" font-size="4.6">0</tspan></text>
<line x1="224.50" y1="203.61" x2="226.30" y2="203.61" stroke="#000" stroke-width="0.6"/>
<line x1="224.50" y1="199.73" x2="226.30" y2="199.73" stroke="#000" stroke-width="0.6"/>
<line x1="224.50" y1="196.97" x2="226.30" y2="196.97" stroke="#000" stroke-width="0.6"/>
<line x1="224.50" y1="194.84" x2="226.30" y2="194.84" stroke="#000" stroke-width="0.6"/>
<line x1="224.50" y1="193.09" x2="226.30" y2="193.09" stroke="#000" stroke-width="0.6"/>
<line x1="224.50" y1="191.62" x2="226.30" y2="191.62" stroke="#000" stroke-width="0.6"/>
<line x1="224.50" y1="190.34" x2="226.30" y2="190.34" stroke="#000" stroke-width="0.6"/>
<line x1="224.50" y1="189.21" x2="226.30" y2="189.21" stroke="#000" stroke-width="0.6"/>
<line x1="224.50" y1="210.25" x2="227.40" y2="210.25" stroke="#000" stroke-width="0.9"/>
<text x="229.2" y="212.85" font-size="7.2" font-weight="bold">10<tspan dy="-1.8" font-size="4.6">-1</tspan></text>
<line x1="224.50" y1="225.66" x2="226.30" y2="225.66" stroke="#000" stroke-width="0.6"/>
<line x1="224.50" y1="221.78" x2="226.30" y2="221.78" stroke="#000" stroke-width="0.6"/>
<line x1="224.50" y1="219.02" x2="226.30" y2="219.02" stroke="#000" stroke-width="0.6"/>
<line x1="224.50" y1="216.89" x2="226.30" y2="216.89" stroke="#000" stroke-width="0.6"/>
<line x1="224.50" y1="215.14" x2="226.30" y2="215.14" stroke="#000" stroke-width="0.6"/>
<line x1="224.50" y1="213.67" x2="226.30" y2="213.67" stroke="#000" stroke-width="0.6"/>
<line x1="224.50" y1="212.39" x2="226.30" y2="212.39" stroke="#000" stroke-width="0.6"/>
<line x1="224.50" y1="211.26" x2="226.30" y2="211.26" stroke="#000" stroke-width="0.6"/>
<line x1="224.50" y1="232.30" x2="227.40" y2="232.30" stroke="#000" stroke-width="0.9"/>
<text x="229.2" y="234.90" font-size="7.2" font-weight="bold">10<tspan dy="-1.8" font-size="4.6">-2</tspan></text>
<line x1="224.50" y1="247.71" x2="226.30" y2="247.71" stroke="#000" stroke-width="0.6"/>
<line x1="224.50" y1="243.83" x2="226.30" y2="243.83" stroke="#000" stroke-width="0.6"/>
<line x1="224.50" y1="241.07" x2="226.30" y2="241.07" stroke="#000" stroke-width="0.6"/>
<line x1="224.50" y1="238.94" x2="226.30" y2="238.94" stroke="#000" stroke-width="0.6"/>
<line x1="224.50" y1="237.19" x2="226.30" y2="237.19" stroke="#000" stroke-width="0.6"/>
<line x1="224.50" y1="235.72" x2="226.30" y2="235.72" stroke="#000" stroke-width="0.6"/>
<line x1="224.50" y1="234.44" x2="226.30" y2="234.44" stroke="#000" stroke-width="0.6"/>
<line x1="224.50" y1="233.31" x2="226.30" y2="233.31" stroke="#000" stroke-width="0.6"/>
<line x1="224.50" y1="254.35" x2="227.40" y2="254.35" stroke="#000" stroke-width="0.9"/>
<text x="229.2" y="256.95" font-size="7.2" font-weight="bold">10<tspan dy="-1.8" font-size="4.6">-3</tspan></text>
<line x1="224.50" y1="269.76" x2="226.30" y2="269.76" stroke="#000" stroke-width="0.6"/>
<line x1="224.50" y1="265.88" x2="226.30" y2="265.88" stroke="#000" stroke-width="0.6"/>
<line x1="224.50" y1="263.12" x2="226.30" y2="263.12" stroke="#000" stroke-width="0.6"/>
<line x1="224.50" y1="260.99" x2="226.30" y2="260.99" stroke="#000" stroke-width="0.6"/>
<line x1="224.50" y1="259.24" x2="226.30" y2="259.24" stroke="#000" stroke-width="0.6"/>
<line x1="224.50" y1="257.77" x2="226.30" y2="257.77" stroke="#000" stroke-width="0.6"/>
<line x1="224.50" y1="256.49" x2="226.30" y2="256.49" stroke="#000" stroke-width="0.6"/>
<line x1="224.50" y1="255.36" x2="226.30" y2="255.36" stroke="#000" stroke-width="0.6"/>
<line x1="224.50" y1="276.40" x2="227.40" y2="276.40" stroke="#000" stroke-width="0.9"/>
<text x="229.2" y="279.00" font-size="7.2" font-weight="bold">10<tspan dy="-1.8" font-size="4.6">-4</tspan></text>
<line x1="224.50" y1="291.81" x2="226.30" y2="291.81" stroke="#000" stroke-width="0.6"/>
<line x1="224.50" y1="287.93" x2="226.30" y2="287.93" stroke="#000" stroke-width="0.6"/>
<line x1="224.50" y1="285.17" x2="226.30" y2="285.17" stroke="#000" stroke-width="0.6"/>
<line x1="224.50" y1="283.04" x2="226.30" y2="283.04" stroke="#000" stroke-width="0.6"/>
<line x1="224.50" y1="281.29" x2="226.30" y2="281.29" stroke="#000" stroke-width="0.6"/>
<line x1="224.50" y1="279.82" x2="226.30" y2="279.82" stroke="#000" stroke-width="0.6"/>
<line x1="224.50" y1="278.54" x2="226.30" y2="278.54" stroke="#000" stroke-width="0.6"/>
<line x1="224.50" y1="277.41" x2="226.30" y2="277.41" stroke="#000" stroke-width="0.6"/>
<line x1="224.50" y1="298.45" x2="227.40" y2="298.45" stroke="#000" stroke-width="0.9"/>
<text x="229.2" y="301.05" font-size="7.2" font-weight="bold">10<tspan dy="-1.8" font-size="4.6">-5</tspan></text>
<circle cx="68.70" cy="211.50" r="1.6" fill="#fff" fill-opacity="0.7" stroke="#000" stroke-width="0.9"/>
<path d="M67.10 211.50 A1.6 1.6 0 0 1 70.30 211.50 Z" fill="#000"/>
<circle cx="82.25" cy="205.50" r="1.6" fill="#fff" fill-opacity="0.7" stroke="#000" stroke-width="0.9"/>
<path d="M80.65 205.50 A1.6 1.6 0 0 1 83.85 205.50 Z" fill="#000"/>
<line x1="95.80" y1="201.60" x2="95.80" y2="209.20" stroke="#000" stroke-width="0.9"/>
<line x1="93.60" y1="201.60" x2="98.00" y2="201.60" stroke="#000" stroke-width="0.9"/>
<line x1="93.60" y1="209.20" x2="98.00" y2="209.20" stroke="#000" stroke-width="0.9"/>
<circle cx="95.80" cy="205.40" r="1.6" fill="#fff" fill-opacity="0.7" stroke="#000" stroke-width="0.9"/>
<path d="M94.20 205.40 A1.6 1.6 0 0 1 97.40 205.40 Z" fill="#000"/>
<circle cx="109.35" cy="268.50" r="1.6" fill="#fff" fill-opacity="0.7" stroke="#000" stroke-width="0.9"/>
<path d="M107.75 268.50 A1.6 1.6 0 0 1 110.95 268.50 Z" fill="#000"/>
<circle cx="122.90" cy="214.90" r="1.6" fill="#fff" fill-opacity="0.7" stroke="#000" stroke-width="0.9"/>
<path d="M121.30 214.90 A1.6 1.6 0 0 1 124.50 214.90 Z" fill="#000"/>
<circle cx="136.45" cy="211.50" r="1.6" fill="#fff" fill-opacity="0.7" stroke="#000" stroke-width="0.9"/>
<path d="M134.85 211.50 A1.6 1.6 0 0 1 138.05 211.50 Z" fill="#000"/>
<circle cx="150.00" cy="219.50" r="1.6" fill="#fff" fill-opacity="0.7" stroke="#000" stroke-width="0.9"/>
<path d="M148.40 219.50 A1.6 1.6 0 0 1 151.60 219.50 Z" fill="#000"/>
<circle cx="163.55" cy="274.20" r="1.6" fill="#fff" fill-opacity="0.7" stroke="#000" stroke-width="0.9"/>
<path d="M161.95 274.20 A1.6 1.6 0 0 1 165.15 274.20 Z" fill="#000"/>
<circle cx="177.10" cy="220.50" r="1.6" fill="#fff" fill-opacity="0.7" stroke="#000" stroke-width="0.9"/>
<path d="M175.50 220.50 A1.6 1.6 0 0 1 178.70 220.50 Z" fill="#000"/>
<circle cx="190.65" cy="214.90" r="1.6" fill="#fff" fill-opacity="0.7" stroke="#000" stroke-width="0.9"/>
<path d="M189.05 214.90 A1.6 1.6 0 0 1 192.25 214.90 Z" fill="#000"/>
<circle cx="204.20" cy="224.10" r="1.6" fill="#fff" fill-opacity="0.7" stroke="#000" stroke-width="0.9"/>
<path d="M202.60 224.10 A1.6 1.6 0 0 1 205.80 224.10 Z" fill="#000"/>
<circle cx="217.75" cy="279.60" r="1.6" fill="#fff" fill-opacity="0.7" stroke="#000" stroke-width="0.9"/>
<path d="M216.15 279.60 A1.6 1.6 0 0 1 219.35 279.60 Z" fill="#000"/>
<text x="19.2" y="246.6" font-size="7.5" text-anchor="middle" font-weight="bold" transform="rotate(-90 19.2 246.6)" textLength="80.2" lengthAdjust="spacingAndGlyphs">RB phosphorylation (%)</text>
<text x="255.0" y="242.1" font-size="7.2" text-anchor="middle" font-weight="bold" transform="rotate(-90 255.0 242.1)">AMG 925 plasma levels, <tspan font-weight="normal">µ</tspan>mol/L</text>
<circle cx="106.00" cy="187.80" r="1.6" fill="#fff" fill-opacity="0.7" stroke="#000" stroke-width="0.9"/>
<path d="M104.40 187.80 A1.6 1.6 0 0 1 107.60 187.80 Z" fill="#000"/>
<text x="115.3" y="190.3" font-size="7.4" text-anchor="start" font-weight="bold" textLength="83.8" lengthAdjust="spacingAndGlyphs">AMG 925 plasma levels</text>
<text x="55.85" y="308.55" font-size="7.4" text-anchor="end" font-weight="bold" transform="rotate(-43 55.85 308.55)">Vehicle</text>
<text x="67.9" y="310.05" font-size="7.4" text-anchor="end" font-weight="bold" transform="rotate(-43 67.9 310.05)">3 h</text>
<text x="81.45" y="310.05" font-size="7.4" text-anchor="end" font-weight="bold" transform="rotate(-43 81.45 310.05)">9 h</text>
<text x="95.0" y="310.05" font-size="7.4" text-anchor="end" font-weight="bold" transform="rotate(-43 95.0 310.05)">12 h</text>
<text x="108.55" y="310.05" font-size="7.4" text-anchor="end" font-weight="bold" transform="rotate(-43 108.55 310.05)">24 h</text>
<text x="122.1" y="310.05" font-size="7.4" text-anchor="end" font-weight="bold" transform="rotate(-43 122.1 310.05)">3 h</text>
<text x="135.65" y="310.05" font-size="7.4" text-anchor="end" font-weight="bold" transform="rotate(-43 135.65 310.05)">9 h</text>
<text x="149.2" y="310.05" font-size="7.4" text-anchor="end" font-weight="bold" transform="rotate(-43 149.2 310.05)">12 h</text>
<text x="162.75" y="310.05" font-size="7.4" text-anchor="end" font-weight="bold" transform="rotate(-43 162.75 310.05)">24 h</text>
<text x="176.3" y="310.05" font-size="7.4" text-anchor="end" font-weight="bold" transform="rotate(-43 176.3 310.05)">3 h</text>
<text x="189.85" y="310.05" font-size="7.4" text-anchor="end" font-weight="bold" transform="rotate(-43 189.85 310.05)">9 h</text>
<text x="203.4" y="310.05" font-size="7.4" text-anchor="end" font-weight="bold" transform="rotate(-43 203.4 310.05)">12 h</text>
<text x="216.95" y="310.05" font-size="7.4" text-anchor="end" font-weight="bold" transform="rotate(-43 216.95 310.05)">24 h</text>
<path d="M65.2 321.04999999999995 V323.84999999999997 H110.5 V321.04999999999995" fill="none" stroke="#000" stroke-width="1"/>
<text x="87.05" y="334.75" font-size="7.2" text-anchor="middle" font-weight="bold" textLength="31.6" lengthAdjust="spacingAndGlyphs">37.5 mpk</text>
<path d="M119.7 321.04999999999995 V323.84999999999997 H164.7 V321.04999999999995" fill="none" stroke="#000" stroke-width="1"/>
<text x="141.05" y="334.75" font-size="7.2" text-anchor="middle" font-weight="bold" textLength="25.5" lengthAdjust="spacingAndGlyphs">25 mpk</text>
<path d="M174.1 321.04999999999995 V323.84999999999997 H219.6 V321.04999999999995" fill="none" stroke="#000" stroke-width="1"/>
<text x="196.25" y="334.75" font-size="7.2" text-anchor="middle" font-weight="bold" textLength="31.2" lengthAdjust="spacingAndGlyphs">12.5 mpk</text>
<text x="14.5" y="23.2" font-size="13.2" text-anchor="start" font-weight="bold">A</text>
<text x="273.3" y="22.9" font-size="13.0" text-anchor="start" font-weight="bold">B</text>
<line x1="306.30" y1="42.30" x2="306.30" y2="136.90" stroke="#000" stroke-width="1.1"/>
<line x1="305.80" y1="136.40" x2="446.00" y2="136.40" stroke="#000" stroke-width="1.1"/>
<line x1="303.70" y1="42.80" x2="306.30" y2="42.80" stroke="#000" stroke-width="0.9"/>
<text x="302.6" y="45.1" font-size="6.4" text-anchor="end" font-weight="bold">2,000</text>
<line x1="303.70" y1="66.20" x2="306.30" y2="66.20" stroke="#000" stroke-width="0.9"/>
<text x="302.6" y="68.5" font-size="6.4" text-anchor="end" font-weight="bold">1,500</text>
<line x1="303.70" y1="89.60" x2="306.30" y2="89.60" stroke="#000" stroke-width="0.9"/>
<text x="302.6" y="91.9" font-size="6.4" text-anchor="end" font-weight="bold">1,000</text>
<line x1="303.70" y1="113.00" x2="306.30" y2="113.00" stroke="#000" stroke-width="0.9"/>
<text x="302.6" y="115.3" font-size="6.4" text-anchor="end" font-weight="bold">500</text>
<line x1="303.70" y1="136.40" x2="306.30" y2="136.40" stroke="#000" stroke-width="0.9"/>
<text x="302.6" y="138.7" font-size="6.4" text-anchor="end" font-weight="bold">0</text>
<line x1="304.80" y1="124.70" x2="306.30" y2="124.70" stroke="#000" stroke-width="0.7"/>
<line x1="304.80" y1="101.30" x2="306.30" y2="101.30" stroke="#000" stroke-width="0.7"/>
<line x1="304.80" y1="77.90" x2="306.30" y2="77.90" stroke="#000" stroke-width="0.7"/>
<line x1="304.80" y1="54.50" x2="306.30" y2="54.50" stroke="#000" stroke-width="0.7"/>
<rect x="320.4" y="134.2" width="122" height="2.9" fill="#909090"/>
<line x1="318.88" y1="136.40" x2="318.88" y2="138.60" stroke="#000" stroke-width="0.9"/>
<text x="318.88" y="146.4" font-size="6.4" text-anchor="middle" font-weight="bold">6</text>
<line x1="331.55" y1="136.40" x2="331.55" y2="137.80" stroke="#000" stroke-width="0.7"/>
<line x1="344.23" y1="136.40" x2="344.23" y2="138.60" stroke="#000" stroke-width="0.9"/>
<text x="344.23" y="146.4" font-size="6.4" text-anchor="middle" font-weight="bold">8</text>
<line x1="356.90" y1="136.40" x2="356.90" y2="137.80" stroke="#000" stroke-width="0.7"/>
<line x1="369.57" y1="136.40" x2="369.57" y2="138.60" stroke="#000" stroke-width="0.9"/>
<text x="369.57" y="146.4" font-size="6.4" text-anchor="middle" font-weight="bold">10</text>
<line x1="382.25" y1="136.40" x2="382.25" y2="137.80" stroke="#000" stroke-width="0.7"/>
<line x1="394.93" y1="136.40" x2="394.93" y2="138.60" stroke="#000" stroke-width="0.9"/>
<text x="394.93" y="146.4" font-size="6.4" text-anchor="middle" font-weight="bold">12</text>
<line x1="407.60" y1="136.40" x2="407.60" y2="137.80" stroke="#000" stroke-width="0.7"/>
<line x1="420.27" y1="136.40" x2="420.27" y2="138.60" stroke="#000" stroke-width="0.9"/>
<text x="420.27" y="146.4" font-size="6.4" text-anchor="middle" font-weight="bold">14</text>
<line x1="432.95" y1="136.40" x2="432.95" y2="137.80" stroke="#000" stroke-width="0.7"/>
<line x1="445.62" y1="136.40" x2="445.62" y2="138.60" stroke="#000" stroke-width="0.9"/>
<text x="445.62" y="146.4" font-size="6.4" text-anchor="middle" font-weight="bold">16</text>
<path d="M442 133.6 L445 135.6 L442 137.6 Z" fill="#000"/>
<text x="322.7" y="132.9" font-size="5" font-weight="bold">R<tspan dy="1.2" font-size="3.6">x</tspan></text>
<line x1="331.55" y1="123.30" x2="331.55" y2="125.17" stroke="#6a6a6a" stroke-width="0.8"/>
<line x1="329.85" y1="123.30" x2="333.25" y2="123.30" stroke="#6a6a6a" stroke-width="0.8"/>
<line x1="329.85" y1="125.17" x2="333.25" y2="125.17" stroke="#6a6a6a" stroke-width="0.8"/>
<line x1="356.90" y1="120.96" x2="356.90" y2="123.76" stroke="#6a6a6a" stroke-width="0.8"/>
<line x1="355.20" y1="120.96" x2="358.60" y2="120.96" stroke="#6a6a6a" stroke-width="0.8"/>
<line x1="355.20" y1="123.76" x2="358.60" y2="123.76" stroke="#6a6a6a" stroke-width="0.8"/>
<line x1="382.25" y1="118.62" x2="382.25" y2="122.36" stroke="#6a6a6a" stroke-width="0.8"/>
<line x1="380.55" y1="118.62" x2="383.95" y2="118.62" stroke="#6a6a6a" stroke-width="0.8"/>
<line x1="380.55" y1="122.36" x2="383.95" y2="122.36" stroke="#6a6a6a" stroke-width="0.8"/>
<line x1="407.60" y1="120.49" x2="407.60" y2="124.23" stroke="#6a6a6a" stroke-width="0.8"/>
<line x1="405.90" y1="120.49" x2="409.30" y2="120.49" stroke="#6a6a6a" stroke-width="0.8"/>
<line x1="405.90" y1="124.23" x2="409.30" y2="124.23" stroke="#6a6a6a" stroke-width="0.8"/>
<line x1="432.95" y1="120.49" x2="432.95" y2="123.30" stroke="#6a6a6a" stroke-width="0.8"/>
<line x1="431.25" y1="120.49" x2="434.65" y2="120.49" stroke="#6a6a6a" stroke-width="0.8"/>
<line x1="431.25" y1="123.30" x2="434.65" y2="123.30" stroke="#6a6a6a" stroke-width="0.8"/>
<line x1="331.55" y1="122.59" x2="331.55" y2="124.93" stroke="#6a6a6a" stroke-width="0.8"/>
<line x1="329.85" y1="122.59" x2="333.25" y2="122.59" stroke="#6a6a6a" stroke-width="0.8"/>
<line x1="329.85" y1="124.93" x2="333.25" y2="124.93" stroke="#6a6a6a" stroke-width="0.8"/>
<line x1="356.90" y1="119.55" x2="356.90" y2="123.30" stroke="#6a6a6a" stroke-width="0.8"/>
<line x1="355.20" y1="119.55" x2="358.60" y2="119.55" stroke="#6a6a6a" stroke-width="0.8"/>
<line x1="355.20" y1="123.30" x2="358.60" y2="123.30" stroke="#6a6a6a" stroke-width="0.8"/>
<line x1="382.25" y1="113.94" x2="382.25" y2="119.55" stroke="#6a6a6a" stroke-width="0.8"/>
<line x1="380.55" y1="113.94" x2="383.95" y2="113.94" stroke="#6a6a6a" stroke-width="0.8"/>
<line x1="380.55" y1="119.55" x2="383.95" y2="119.55" stroke="#6a6a6a" stroke-width="0.8"/>
<line x1="407.60" y1="110.66" x2="407.60" y2="117.21" stroke="#6a6a6a" stroke-width="0.8"/>
<line x1="405.90" y1="110.66" x2="409.30" y2="110.66" stroke="#6a6a6a" stroke-width="0.8"/>
<line x1="405.90" y1="117.21" x2="409.30" y2="117.21" stroke="#6a6a6a" stroke-width="0.8"/>
<line x1="432.95" y1="104.58" x2="432.95" y2="114.87" stroke="#6a6a6a" stroke-width="0.8"/>
<line x1="431.25" y1="104.58" x2="434.65" y2="104.58" stroke="#6a6a6a" stroke-width="0.8"/>
<line x1="431.25" y1="114.87" x2="434.65" y2="114.87" stroke="#6a6a6a" stroke-width="0.8"/>
<line x1="331.55" y1="124.47" x2="331.55" y2="126.81" stroke="#6a6a6a" stroke-width="0.8"/>
<line x1="329.85" y1="124.47" x2="333.25" y2="124.47" stroke="#6a6a6a" stroke-width="0.8"/>
<line x1="329.85" y1="126.81" x2="333.25" y2="126.81" stroke="#6a6a6a" stroke-width="0.8"/>
<line x1="356.90" y1="119.08" x2="356.90" y2="122.83" stroke="#6a6a6a" stroke-width="0.8"/>
<line x1="355.20" y1="119.08" x2="358.60" y2="119.08" stroke="#6a6a6a" stroke-width="0.8"/>
<line x1="355.20" y1="122.83" x2="358.60" y2="122.83" stroke="#6a6a6a" stroke-width="0.8"/>
<line x1="382.25" y1="112.06" x2="382.25" y2="118.62" stroke="#6a6a6a" stroke-width="0.8"/>
<line x1="380.55" y1="112.06" x2="383.95" y2="112.06" stroke="#6a6a6a" stroke-width="0.8"/>
<line x1="380.55" y1="118.62" x2="383.95" y2="118.62" stroke="#6a6a6a" stroke-width="0.8"/>
<line x1="407.60" y1="108.09" x2="407.60" y2="115.57" stroke="#6a6a6a" stroke-width="0.8"/>
<line x1="405.90" y1="108.09" x2="409.30" y2="108.09" stroke="#6a6a6a" stroke-width="0.8"/>
<line x1="405.90" y1="115.57" x2="409.30" y2="115.57" stroke="#6a6a6a" stroke-width="0.8"/>
<line x1="432.95" y1="91.00" x2="432.95" y2="103.17" stroke="#6a6a6a" stroke-width="0.8"/>
<line x1="431.25" y1="91.00" x2="434.65" y2="91.00" stroke="#6a6a6a" stroke-width="0.8"/>
<line x1="431.25" y1="103.17" x2="434.65" y2="103.17" stroke="#6a6a6a" stroke-width="0.8"/>
<line x1="331.55" y1="120.49" x2="331.55" y2="123.30" stroke="#6a6a6a" stroke-width="0.8"/>
<line x1="329.85" y1="120.49" x2="333.25" y2="120.49" stroke="#6a6a6a" stroke-width="0.8"/>
<line x1="329.85" y1="123.30" x2="333.25" y2="123.30" stroke="#6a6a6a" stroke-width="0.8"/>
<line x1="356.90" y1="110.66" x2="356.90" y2="115.34" stroke="#6a6a6a" stroke-width="0.8"/>
<line x1="355.20" y1="110.66" x2="358.60" y2="110.66" stroke="#6a6a6a" stroke-width="0.8"/>
<line x1="355.20" y1="115.34" x2="358.60" y2="115.34" stroke="#6a6a6a" stroke-width="0.8"/>
<line x1="382.25" y1="101.30" x2="382.25" y2="108.79" stroke="#6a6a6a" stroke-width="0.8"/>
<line x1="380.55" y1="101.30" x2="383.95" y2="101.30" stroke="#6a6a6a" stroke-width="0.8"/>
<line x1="380.55" y1="108.79" x2="383.95" y2="108.79" stroke="#6a6a6a" stroke-width="0.8"/>
<line x1="407.60" y1="87.26" x2="407.60" y2="97.56" stroke="#6a6a6a" stroke-width="0.8"/>
<line x1="405.90" y1="87.26" x2="409.30" y2="87.26" stroke="#6a6a6a" stroke-width="0.8"/>
<line x1="405.90" y1="97.56" x2="409.30" y2="97.56" stroke="#6a6a6a" stroke-width="0.8"/>
<line x1="432.95" y1="66.43" x2="432.95" y2="77.20" stroke="#6a6a6a" stroke-width="0.8"/>
<line x1="431.25" y1="66.43" x2="434.65" y2="66.43" stroke="#6a6a6a" stroke-width="0.8"/>
<line x1="431.25" y1="77.20" x2="434.65" y2="77.20" stroke="#6a6a6a" stroke-width="0.8"/>
<line x1="331.55" y1="119.08" x2="331.55" y2="121.89" stroke="#6a6a6a" stroke-width="0.8"/>
<line x1="329.85" y1="119.08" x2="333.25" y2="119.08" stroke="#6a6a6a" stroke-width="0.8"/>
<line x1="329.85" y1="121.89" x2="333.25" y2="121.89" stroke="#6a6a6a" stroke-width="0.8"/>
<line x1="356.90" y1="106.68" x2="356.90" y2="111.36" stroke="#6a6a6a" stroke-width="0.8"/>
<line x1="355.20" y1="106.68" x2="358.60" y2="106.68" stroke="#6a6a6a" stroke-width="0.8"/>
<line x1="355.20" y1="111.36" x2="358.60" y2="111.36" stroke="#6a6a6a" stroke-width="0.8"/>
<line x1="382.25" y1="92.64" x2="382.25" y2="100.60" stroke="#6a6a6a" stroke-width="0.8"/>
<line x1="380.55" y1="92.64" x2="383.95" y2="92.64" stroke="#6a6a6a" stroke-width="0.8"/>
<line x1="380.55" y1="100.60" x2="383.95" y2="100.60" stroke="#6a6a6a" stroke-width="0.8"/>
<line x1="407.60" y1="71.82" x2="407.60" y2="85.86" stroke="#6a6a6a" stroke-width="0.8"/>
<line x1="405.90" y1="71.82" x2="409.30" y2="71.82" stroke="#6a6a6a" stroke-width="0.8"/>
<line x1="405.90" y1="85.86" x2="409.30" y2="85.86" stroke="#6a6a6a" stroke-width="0.8"/>
<line x1="432.95" y1="43.27" x2="432.95" y2="61.05" stroke="#6a6a6a" stroke-width="0.8"/>
<line x1="431.25" y1="43.27" x2="434.65" y2="43.27" stroke="#6a6a6a" stroke-width="0.8"/>
<line x1="431.25" y1="61.05" x2="434.65" y2="61.05" stroke="#6a6a6a" stroke-width="0.8"/>
<polyline points="306.20,124.70 331.55,124.23 356.90,122.36 382.25,120.49 407.60,122.36 432.95,121.89" fill="none" stroke="#000" stroke-width="1.2"/>
<polyline points="306.20,124.70 331.55,123.76 356.90,121.42 382.25,116.74 407.60,113.94 432.95,109.72" fill="none" stroke="#000" stroke-width="1.2"/>
<polyline points="306.20,124.70 331.55,125.64 356.90,120.96 382.25,115.34 407.60,111.83 432.95,97.09" fill="none" stroke="#000" stroke-width="1.2"/>
<polyline points="306.20,124.70 331.55,121.89 356.90,113.00 382.25,105.04 407.60,92.41 432.95,71.82" fill="none" stroke="#000" stroke-width="1.2"/>
<polyline points="306.20,124.70 331.55,120.49 356.90,109.02 382.25,96.62 407.60,78.84 432.95,52.16" fill="none" stroke="#000" stroke-width="1.2"/>
<path d="M303.80 122.40 L308.60 127.00 M303.80 127.00 L308.60 122.40" fill="none" stroke="#000" stroke-width="1.15"/>
<path d="M329.15 121.93 L333.95 126.53 M329.15 126.53 L333.95 121.93" fill="none" stroke="#000" stroke-width="1.15"/>
<path d="M354.50 120.06 L359.30 124.66 M354.50 124.66 L359.30 120.06" fill="none" stroke="#000" stroke-width="1.15"/>
<path d="M379.85 118.19 L384.65 122.79 M379.85 122.79 L384.65 118.19" fill="none" stroke="#000" stroke-width="1.15"/>
<path d="M405.20 120.06 L410.00 124.66 M405.20 124.66 L410.00 120.06" fill="none" stroke="#000" stroke-width="1.15"/>
<path d="M430.55 119.59 L435.35 124.19 M430.55 124.19 L435.35 119.59" fill="none" stroke="#000" stroke-width="1.15"/>
<path d="M304.20 123.00 H308.20 L306.20 126.90 Z" fill="#fff" fill-opacity="0.65" stroke="#000" stroke-width="1.0"/>
<path d="M329.55 122.06 H333.55 L331.55 125.96 Z" fill="#fff" fill-opacity="0.65" stroke="#000" stroke-width="1.0"/>
<path d="M354.90 119.72 H358.90 L356.90 123.62 Z" fill="#fff" fill-opacity="0.65" stroke="#000" stroke-width="1.0"/>
<path d="M380.25 115.04 H384.25 L382.25 118.94 Z" fill="#fff" fill-opacity="0.65" stroke="#000" stroke-width="1.0"/>
<path d="M405.60 112.24 H409.60 L407.60 116.14 Z" fill="#fff" fill-opacity="0.65" stroke="#000" stroke-width="1.0"/>
<path d="M430.95 108.02 H434.95 L432.95 111.92 Z" fill="#fff" fill-opacity="0.65" stroke="#000" stroke-width="1.0"/>
<circle cx="306.20" cy="124.70" r="2.00" fill="#fff" fill-opacity="0.65" stroke="#000" stroke-width="1.0"/>
<circle cx="331.55" cy="125.64" r="2.00" fill="#fff" fill-opacity="0.65" stroke="#000" stroke-width="1.0"/>
<circle cx="356.90" cy="120.96" r="2.00" fill="#fff" fill-opacity="0.65" stroke="#000" stroke-width="1.0"/>
<circle cx="382.25" cy="115.34" r="2.00" fill="#fff" fill-opacity="0.65" stroke="#000" stroke-width="1.0"/>
<circle cx="407.60" cy="111.83" r="2.00" fill="#fff" fill-opacity="0.65" stroke="#000" stroke-width="1.0"/>
<circle cx="432.95" cy="97.09" r="2.00" fill="#fff" fill-opacity="0.65" stroke="#000" stroke-width="1.0"/>
<rect x="304.45" y="122.95" width="3.50" height="3.50" fill="#fff" fill-opacity="0.65" stroke="#000" stroke-width="1.0"/>
<rect x="329.80" y="120.14" width="3.50" height="3.50" fill="#fff" fill-opacity="0.65" stroke="#000" stroke-width="1.0"/>
<rect x="355.15" y="111.25" width="3.50" height="3.50" fill="#fff" fill-opacity="0.65" stroke="#000" stroke-width="1.0"/>
<rect x="380.50" y="103.29" width="3.50" height="3.50" fill="#fff" fill-opacity="0.65" stroke="#000" stroke-width="1.0"/>
<rect x="405.85" y="90.66" width="3.50" height="3.50" fill="#fff" fill-opacity="0.65" stroke="#000" stroke-width="1.0"/>
<rect x="431.20" y="70.07" width="3.50" height="3.50" fill="#fff" fill-opacity="0.65" stroke="#000" stroke-width="1.0"/>
<rect x="304.30" y="122.80" width="3.8" height="3.8" fill="#000"/>
<rect x="329.65" y="118.59" width="3.8" height="3.8" fill="#000"/>
<rect x="355.00" y="107.12" width="3.8" height="3.8" fill="#000"/>
<rect x="380.35" y="94.72" width="3.8" height="3.8" fill="#000"/>
<rect x="405.70" y="76.94" width="3.8" height="3.8" fill="#000"/>
<rect x="431.05" y="50.26" width="3.8" height="3.8" fill="#000"/>
<rect x="303.60" y="122.10" width="5.2" height="5.2" fill="#000"/>
<text x="280.6" y="84.5" font-size="6.7" text-anchor="middle" font-weight="bold" transform="rotate(-90 280.6 84.5)">Tumor volume (mm<tspan dy="-2.4" font-size="4.4">3</tspan><tspan dy="2.4">)</tspan></text>
<text x="375.5" y="158.5" font-size="6.7" text-anchor="middle" font-weight="bold" textLength="94.0" lengthAdjust="spacingAndGlyphs">Days after tumor implantation</text>
<line x1="317.20" y1="25.00" x2="325.60" y2="25.00" stroke="#000" stroke-width="0.9"/>
<rect x="319.50" y="23.10" width="3.8" height="3.8" fill="#000"/>
<text x="330.4" y="27.3" font-size="6.4" text-anchor="start" font-weight="bold" textLength="20.8" lengthAdjust="spacingAndGlyphs">Vehicle</text>
<line x1="317.20" y1="33.90" x2="325.60" y2="33.90" stroke="#000" stroke-width="0.9"/>
<rect x="319.26" y="31.77" width="4.27" height="4.27" fill="#fff" fill-opacity="0" stroke="#000" stroke-width="0.9"/>
<text x="330.4" y="36.2" font-size="6.4" text-anchor="start" font-weight="bold" textLength="56.2" lengthAdjust="spacingAndGlyphs">AMG 925, 6.25 mpk</text>
<line x1="317.20" y1="42.90" x2="325.60" y2="42.90" stroke="#000" stroke-width="0.9"/>
<circle cx="321.40" cy="42.90" r="2.44" fill="#fff" fill-opacity="0" stroke="#000" stroke-width="0.9"/>
<text x="330.4" y="45.2" font-size="6.4" text-anchor="start" font-weight="bold" textLength="56.2" lengthAdjust="spacingAndGlyphs">AMG 925, 12.5 mpk</text>
<line x1="317.20" y1="51.80" x2="325.60" y2="51.80" stroke="#000" stroke-width="0.9"/>
<path d="M318.96 49.73 H323.84 L321.40 54.48 Z" fill="#fff" fill-opacity="0" stroke="#000" stroke-width="0.9"/>
<text x="330.4" y="54.1" font-size="6.4" text-anchor="start" font-weight="bold" textLength="50.4" lengthAdjust="spacingAndGlyphs">AMG 925, 25 mpk</text>
<line x1="317.20" y1="61.20" x2="325.60" y2="61.20" stroke="#000" stroke-width="0.9"/>
<path d="M319.00 58.90 L323.80 63.50 M319.00 63.50 L323.80 58.90" fill="none" stroke="#000" stroke-width="1.15"/>
<text x="330.4" y="63.5" font-size="6.4" text-anchor="start" font-weight="bold" textLength="56.2" lengthAdjust="spacingAndGlyphs">AMG 925, 37.5 mpk</text>
<text x="438.5" y="72.3" font-size="6.5" text-anchor="start" font-weight="bold" textLength="35.7" lengthAdjust="spacingAndGlyphs">TGI = 27.3%</text>
<text x="438.5" y="96.2" font-size="6.5" text-anchor="start" font-weight="bold">TGI = 63%, <tspan font-style="italic">P</tspan> = 0.0016</text>
<text x="438.5" y="112.3" font-size="6.5" text-anchor="start" font-weight="bold">TGI = 81%, <tspan font-style="italic">P</tspan> &lt; 0.0001</text>
<text x="438.5" y="126.8" font-size="6.5" text-anchor="start" font-weight="bold">TGI = 96%, <tspan font-style="italic">P</tspan> &lt; 0.0001</text>
<line x1="310.20" y1="202.30" x2="310.20" y2="298.60" stroke="#000" stroke-width="1.1"/>
<line x1="309.70" y1="298.10" x2="458.30" y2="298.10" stroke="#000" stroke-width="1.1"/>
<line x1="307.60" y1="202.90" x2="310.20" y2="202.90" stroke="#000" stroke-width="0.9"/>
<text x="306.4" y="205.2" font-size="6.4" text-anchor="end" font-weight="bold">120</text>
<line x1="307.60" y1="224.00" x2="310.20" y2="224.00" stroke="#000" stroke-width="0.9"/>
<text x="306.4" y="226.3" font-size="6.4" text-anchor="end" font-weight="bold">110</text>
<line x1="307.60" y1="245.10" x2="310.20" y2="245.10" stroke="#000" stroke-width="0.9"/>
<text x="306.4" y="247.4" font-size="6.4" text-anchor="end" font-weight="bold">100</text>
<line x1="307.60" y1="266.20" x2="310.20" y2="266.20" stroke="#000" stroke-width="0.9"/>
<text x="306.4" y="268.5" font-size="6.4" text-anchor="end" font-weight="bold">90</text>
<line x1="307.60" y1="287.30" x2="310.20" y2="287.30" stroke="#000" stroke-width="0.9"/>
<text x="306.4" y="289.6" font-size="6.4" text-anchor="end" font-weight="bold">80</text>
<line x1="308.70" y1="213.45" x2="310.20" y2="213.45" stroke="#000" stroke-width="0.7"/>
<line x1="308.70" y1="234.55" x2="310.20" y2="234.55" stroke="#000" stroke-width="0.7"/>
<line x1="308.70" y1="255.65" x2="310.20" y2="255.65" stroke="#000" stroke-width="0.7"/>
<line x1="308.70" y1="276.75" x2="310.20" y2="276.75" stroke="#000" stroke-width="0.7"/>
<line x1="323.59" y1="298.10" x2="323.59" y2="300.40" stroke="#000" stroke-width="0.9"/>
<text x="323.59" y="307.8" font-size="6.4" text-anchor="middle" font-weight="bold">6</text>
<line x1="337.08" y1="298.10" x2="337.08" y2="299.50" stroke="#000" stroke-width="0.7"/>
<line x1="350.57" y1="298.10" x2="350.57" y2="300.40" stroke="#000" stroke-width="0.9"/>
<text x="350.57" y="307.8" font-size="6.4" text-anchor="middle" font-weight="bold">8</text>
<line x1="364.06" y1="298.10" x2="364.06" y2="299.50" stroke="#000" stroke-width="0.7"/>
<line x1="377.55" y1="298.10" x2="377.55" y2="300.40" stroke="#000" stroke-width="0.9"/>
<text x="377.55" y="307.8" font-size="6.4" text-anchor="middle" font-weight="bold">10</text>
<line x1="391.04" y1="298.10" x2="391.04" y2="299.50" stroke="#000" stroke-width="0.7"/>
<line x1="404.53" y1="298.10" x2="404.53" y2="300.40" stroke="#000" stroke-width="0.9"/>
<text x="404.53" y="307.8" font-size="6.4" text-anchor="middle" font-weight="bold">12</text>
<line x1="418.02" y1="298.10" x2="418.02" y2="299.50" stroke="#000" stroke-width="0.7"/>
<line x1="431.51" y1="298.10" x2="431.51" y2="300.40" stroke="#000" stroke-width="0.9"/>
<text x="431.51" y="307.8" font-size="6.4" text-anchor="middle" font-weight="bold">14</text>
<line x1="445.00" y1="298.10" x2="445.00" y2="299.50" stroke="#000" stroke-width="0.7"/>
<line x1="458.49" y1="298.10" x2="458.49" y2="300.40" stroke="#000" stroke-width="0.9"/>
<text x="458.49" y="307.8" font-size="6.4" text-anchor="middle" font-weight="bold">16</text>
<polyline points="310.10,245.10 337.08,248.48 364.06,253.54 391.04,251.43 418.02,251.43 445.00,251.43" fill="none" stroke="#000" stroke-width="1.2"/>
<polyline points="310.10,245.10 337.08,252.48 364.06,257.76 391.04,252.48 418.02,252.48 445.00,254.59" fill="none" stroke="#000" stroke-width="1.2"/>
<polyline points="310.10,245.10 337.08,251.43 364.06,255.65 391.04,249.32 418.02,250.38 445.00,248.26" fill="none" stroke="#000" stroke-width="1.2"/>
<polyline points="310.10,245.10 337.08,250.38 364.06,254.59 391.04,247.21 418.02,248.26 445.00,246.16" fill="none" stroke="#000" stroke-width="1.2"/>
<polyline points="310.10,245.10 337.08,249.32 364.06,254.59 391.04,246.16 418.02,246.58 445.00,244.04" fill="none" stroke="#000" stroke-width="1.2"/>
<path d="M307.70 242.80 L312.50 247.40 M307.70 247.40 L312.50 242.80" fill="none" stroke="#000" stroke-width="1.15"/>
<path d="M334.68 246.18 L339.48 250.78 M334.68 250.78 L339.48 246.18" fill="none" stroke="#000" stroke-width="1.15"/>
<path d="M361.66 251.24 L366.46 255.84 M361.66 255.84 L366.46 251.24" fill="none" stroke="#000" stroke-width="1.15"/>
<path d="M388.64 249.13 L393.44 253.73 M388.64 253.73 L393.44 249.13" fill="none" stroke="#000" stroke-width="1.15"/>
<path d="M415.62 249.13 L420.42 253.73 M415.62 253.73 L420.42 249.13" fill="none" stroke="#000" stroke-width="1.15"/>
<path d="M442.60 249.13 L447.40 253.73 M442.60 253.73 L447.40 249.13" fill="none" stroke="#000" stroke-width="1.15"/>
<path d="M308.10 243.40 H312.10 L310.10 247.30 Z" fill="#fff" fill-opacity="0.1" stroke="#000" stroke-width="1.0"/>
<path d="M335.08 250.78 H339.08 L337.08 254.68 Z" fill="#fff" fill-opacity="0.1" stroke="#000" stroke-width="1.0"/>
<path d="M362.06 256.06 H366.06 L364.06 259.96 Z" fill="#fff" fill-opacity="0.1" stroke="#000" stroke-width="1.0"/>
<path d="M389.04 250.78 H393.04 L391.04 254.68 Z" fill="#fff" fill-opacity="0.1" stroke="#000" stroke-width="1.0"/>
<path d="M416.02 250.78 H420.02 L418.02 254.68 Z" fill="#fff" fill-opacity="0.1" stroke="#000" stroke-width="1.0"/>
<path d="M443.00 252.90 H447.00 L445.00 256.80 Z" fill="#fff" fill-opacity="0.1" stroke="#000" stroke-width="1.0"/>
<circle cx="310.10" cy="245.10" r="2.00" fill="#fff" fill-opacity="0.1" stroke="#000" stroke-width="1.0"/>
<circle cx="337.08" cy="251.43" r="2.00" fill="#fff" fill-opacity="0.1" stroke="#000" stroke-width="1.0"/>
<circle cx="364.06" cy="255.65" r="2.00" fill="#fff" fill-opacity="0.1" stroke="#000" stroke-width="1.0"/>
<circle cx="391.04" cy="249.32" r="2.00" fill="#fff" fill-opacity="0.1" stroke="#000" stroke-width="1.0"/>
<circle cx="418.02" cy="250.38" r="2.00" fill="#fff" fill-opacity="0.1" stroke="#000" stroke-width="1.0"/>
<circle cx="445.00" cy="248.26" r="2.00" fill="#fff" fill-opacity="0.1" stroke="#000" stroke-width="1.0"/>
<rect x="308.35" y="243.35" width="3.50" height="3.50" fill="#fff" fill-opacity="0.1" stroke="#000" stroke-width="1.0"/>
<rect x="335.33" y="248.62" width="3.50" height="3.50" fill="#fff" fill-opacity="0.1" stroke="#000" stroke-width="1.0"/>
<rect x="362.31" y="252.84" width="3.50" height="3.50" fill="#fff" fill-opacity="0.1" stroke="#000" stroke-width="1.0"/>
<rect x="389.29" y="245.46" width="3.50" height="3.50" fill="#fff" fill-opacity="0.1" stroke="#000" stroke-width="1.0"/>
<rect x="416.27" y="246.51" width="3.50" height="3.50" fill="#fff" fill-opacity="0.1" stroke="#000" stroke-width="1.0"/>
<rect x="443.25" y="244.41" width="3.50" height="3.50" fill="#fff" fill-opacity="0.1" stroke="#000" stroke-width="1.0"/>
<rect x="308.20" y="243.20" width="3.8" height="3.8" fill="#000"/>
<rect x="335.18" y="247.42" width="3.8" height="3.8" fill="#000"/>
<rect x="362.16" y="252.69" width="3.8" height="3.8" fill="#000"/>
<rect x="389.14" y="244.25" width="3.8" height="3.8" fill="#000"/>
<rect x="416.12" y="244.68" width="3.8" height="3.8" fill="#000"/>
<rect x="443.10" y="242.14" width="3.8" height="3.8" fill="#000"/>
<rect x="307.50" y="242.50" width="5.2" height="5.2" fill="#000"/>
<text x="284.4" y="251.3" font-size="7.1" text-anchor="middle" font-weight="bold" transform="rotate(-90 284.4 251.3)" textLength="71.2" lengthAdjust="spacingAndGlyphs">% Initial body weight</text>
<text x="383.2" y="320.6" font-size="6.7" text-anchor="middle" font-weight="bold" textLength="95.2" lengthAdjust="spacingAndGlyphs">Days after tumor implantation</text>
<line x1="331.20" y1="183.30" x2="339.60" y2="183.30" stroke="#000" stroke-width="0.9"/>
<rect x="333.50" y="181.40" width="3.8" height="3.8" fill="#000"/>
<text x="344.3" y="185.6" font-size="6.8" text-anchor="start" font-weight="bold" textLength="22.7" lengthAdjust="spacingAndGlyphs">Vehicle</text>
<line x1="331.20" y1="192.80" x2="339.60" y2="192.80" stroke="#000" stroke-width="0.9"/>
<rect x="333.26" y="190.67" width="4.27" height="4.27" fill="#fff" fill-opacity="0" stroke="#000" stroke-width="0.9"/>
<text x="344.3" y="195.1" font-size="6.8" text-anchor="start" font-weight="bold" textLength="60.6" lengthAdjust="spacingAndGlyphs">AMG 925, 6.25 mpk</text>
<line x1="331.20" y1="202.30" x2="339.60" y2="202.30" stroke="#000" stroke-width="0.9"/>
<circle cx="335.40" cy="202.30" r="2.44" fill="#fff" fill-opacity="0" stroke="#000" stroke-width="0.9"/>
<text x="344.3" y="204.6" font-size="6.8" text-anchor="start" font-weight="bold" textLength="60.6" lengthAdjust="spacingAndGlyphs">AMG 925, 12.5 mpk</text>
<line x1="331.20" y1="211.70" x2="339.60" y2="211.70" stroke="#000" stroke-width="0.9"/>
<path d="M332.96 209.63 H337.84 L335.40 214.38 Z" fill="#fff" fill-opacity="0" stroke="#000" stroke-width="0.9"/>
<text x="344.3" y="214.0" font-size="6.8" text-anchor="start" font-weight="bold" textLength="54.8" lengthAdjust="spacingAndGlyphs">AMG 925, 25 mpk</text>
<line x1="331.20" y1="221.50" x2="339.60" y2="221.50" stroke="#000" stroke-width="0.9"/>
<path d="M333.00 219.20 L337.80 223.80 M333.00 223.80 L337.80 219.20" fill="none" stroke="#000" stroke-width="1.15"/>
<text x="344.3" y="223.8" font-size="6.8" text-anchor="start" font-weight="bold" textLength="60.6" lengthAdjust="spacingAndGlyphs">AMG 925, 37.5 mpk</text>
<rect x="1.5" y="1.5" width="517" height="348" fill="none" stroke="#ececec" stroke-width="1"/>
<rect x="518" y="1" width="1" height="349" fill="#cfcfcf"/>
<rect x="1" y="349" width="518" height="1" fill="#e0e0e0"/>
<rect x="0" y="0" width="520" height="1" fill="#5c5c5c"/>
<rect x="0" y="0" width="1" height="351" fill="#5c5c5c"/>
<rect x="519" y="0" width="1" height="351" fill="#6a6a6a"/>
<rect x="0" y="350" width="520" height="1" fill="#6e6e6e"/>
</svg></body></html>
